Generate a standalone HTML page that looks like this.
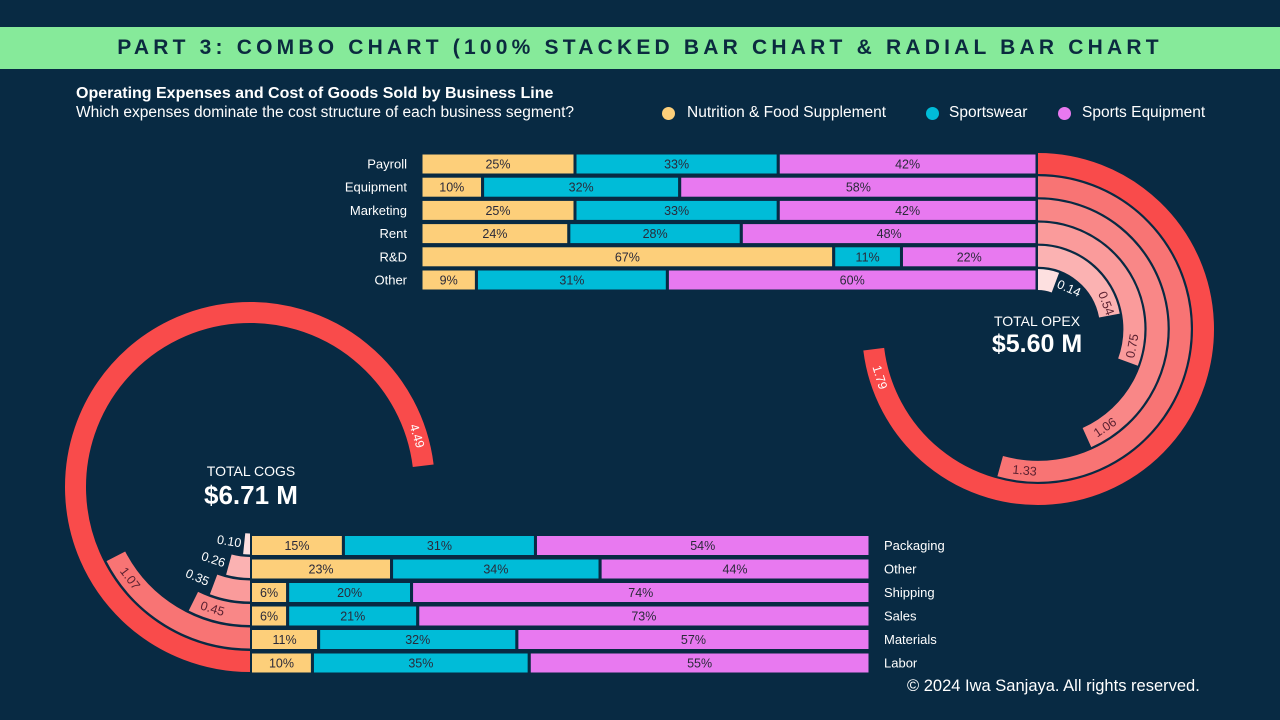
<!DOCTYPE html>
<html><head><meta charset="utf-8">
<style>
html,body{margin:0;padding:0;background:#082a43;}
body{width:1280px;height:720px;overflow:hidden;position:relative;font-family:"Liberation Sans",sans-serif;}
.hdr{position:absolute;left:0;top:27px;width:1280px;height:42px;background:#86ea9a;color:#0b2a3f;font-weight:bold;font-size:21px;letter-spacing:4.2px;text-align:center;line-height:42px;}
.t1{position:absolute;left:76px;top:85px;color:#fff;font-weight:bold;font-size:16px;}
.t2{position:absolute;left:76px;top:104px;color:#fff;font-size:15.5px;}
.lg{position:absolute;top:104px;color:#fff;font-size:15.5px;}
.dot{position:absolute;top:107px;width:13px;height:13px;border-radius:50%;}
.ft{position:absolute;left:907px;top:677px;color:#fff;font-size:16.5px;}
svg{position:absolute;left:0;top:0;}
</style></head><body>
<div class="hdr">PART 3: COMBO CHART (100% STACKED BAR CHART &amp; RADIAL BAR CHART</div>
<div class="t1">Operating Expenses and Cost of Goods Sold by Business Line</div>
<div class="t2">Which expenses dominate the cost structure of each business segment?</div>
<div class="dot" style="left:662px;background:#fdcf7a"></div>
<div class="lg" style="left:687px">Nutrition &amp; Food Supplement</div>
<div class="dot" style="left:926px;background:#00bcd8"></div>
<div class="lg" style="left:949px">Sportswear</div>
<div class="dot" style="left:1058px;background:#e879f0"></div>
<div class="lg" style="left:1082px">Sports Equipment</div>
<div class="ft">© 2024 Iwa Sanjaya. All rights reserved.</div>
<svg id="chart" width="1280" height="720"></svg>
<script>
const opexCats=["Payroll","Equipment","Marketing","Rent","R&D","Other"];
const opexNut=[25,10,25,24,67,9];
const opexWear=[33,32,33,28,11,31];
const opexEq=[42,58,42,48,22,60];
const opexTotals=[1.79,1.33,1.06,0.75,0.54,0.14];
const opexTotalLabel="$5.60 M";
const cogsCats=["Packaging","Other","Shipping","Sales","Materials","Labor"];
const cogsNut=[15,23,6,6,11,10];
const cogsWear=[31,34,20,21,32,35];
const cogsEq=[54,44,74,73,57,55];
const cogsTotals=[0.10,0.26,0.35,0.45,1.07,4.49];
const cogsTotalLabel="$6.71 M";

const NS="http://www.w3.org/2000/svg";
const svg=document.getElementById('chart');
const BG="#082a43";
const SEG=["#fdcf7a","#00bcd8","#e879f0"];
const RING=["#f94b4b","#f87474","#f98787","#fa9b9b","#fbb2b2","#fde0e0"];
function el(t,a,p){const e=document.createElementNS(NS,t);for(const k in a)e.setAttribute(k,a[k]);(p||svg).appendChild(e);return e;}
function txt(x,y,s,a){const e=el('text',Object.assign({x:x,y:y,'font-family':'Liberation Sans, sans-serif'},a));e.textContent=s;return e;}

function bars(cats,series,x0,x1,y0,step,h,labelX,anchor,prefix){
  cats.forEach((c,i)=>{
    const y=y0+i*step;
    const tot=series.reduce((s,a)=>s+a[i],0);
    const xs=v=>x0+(x1-x0)*v/tot;
    const lab=txt(labelX,y+h/2+4.5,c,{fill:'#fff','font-size':13,'text-anchor':anchor});
    
    
    let cum=0;
    series.forEach((s,k)=>{
      const v=s[i];
      const r=el('rect',{x:xs(cum),y:y,width:xs(cum+v)-xs(cum),height:h,fill:SEG[k],stroke:BG,'stroke-width':3});
      
      
      const t=txt((xs(cum)+xs(cum+v))/2,y+h/2+4.5,v+'%',{fill:'#2a2a3a','font-size':12.5,'text-anchor':'middle'});
      
      
      cum+=v;
    });
  });
}
bars(opexCats,[opexNut,opexWear,opexEq],421,1037,153,23.2,22,407,'end','opex');
bars(cogsCats,[cogsNut,cogsWear,cogsEq],250.5,870,534.5,23.5,22,884,'start','cogs');

function radial(vals,cx,cy,rOuter,step,thick,order,startTop,prefix){
  const mx=Math.max(...vals);
  const ang=v=>v/mx*263;
  const pt=(r,a)=>{const t=a*Math.PI/180;return startTop?[cx+r*Math.sin(t),cy-r*Math.cos(t)]:[cx-r*Math.sin(t),cy+r*Math.cos(t)];};
  vals.forEach((v,i)=>{
    const rank=order[i];
    const r=rOuter-rank*step-thick/2;
    const a=ang(v);
    const p0=pt(r,0),p1=pt(r,a);
    const d=`M${p0[0]},${p0[1]} A${r},${r} 0 ${a>180?1:0} 1 ${p1[0]},${p1[1]}`;
    const p=el('path',{d:d,fill:'none',stroke:RING[rank],'stroke-width':thick});
    
    
    let la,col,anc;
    if(a<24){la=a+3;col='#fff';anc=startTop?'start':'end';}
    else{la=a-Math.min(10,a*0.35);col=rank===0?'#fff':'#5a2030';anc='middle';}
    const q=pt(r,la);
    let th=startTop?la:la+180;th=((th%360)+360)%360;
    let rot=th;if(rot>90&&rot<270)rot-=180;
    const t=txt(q[0],q[1]+4,v.toFixed(2),{fill:col,'font-size':12.5,'text-anchor':anc,transform:`rotate(${rot} ${q[0]} ${q[1]})`});
    
    
  });
}
radial(opexTotals,1038,329,176,23.2,21,[0,1,2,3,4,5],true,'opex');
radial(cogsTotals,250,487,185,23.5,21,[5,4,3,2,1,0],false,'cogs');

let c1=txt(1037,326,'TOTAL OPEX',{fill:'#fff','font-size':14,'text-anchor':'middle'});

let c2=txt(1037,352,opexTotalLabel,{fill:'#fff','font-size':25,'font-weight':'bold','text-anchor':'middle'});

let c3=txt(251,476,'TOTAL COGS',{fill:'#fff','font-size':14,'text-anchor':'middle'});

let c4=txt(251,504,cogsTotalLabel,{fill:'#fff','font-size':26,'font-weight':'bold','text-anchor':'middle'});

</script>
</body></html>
